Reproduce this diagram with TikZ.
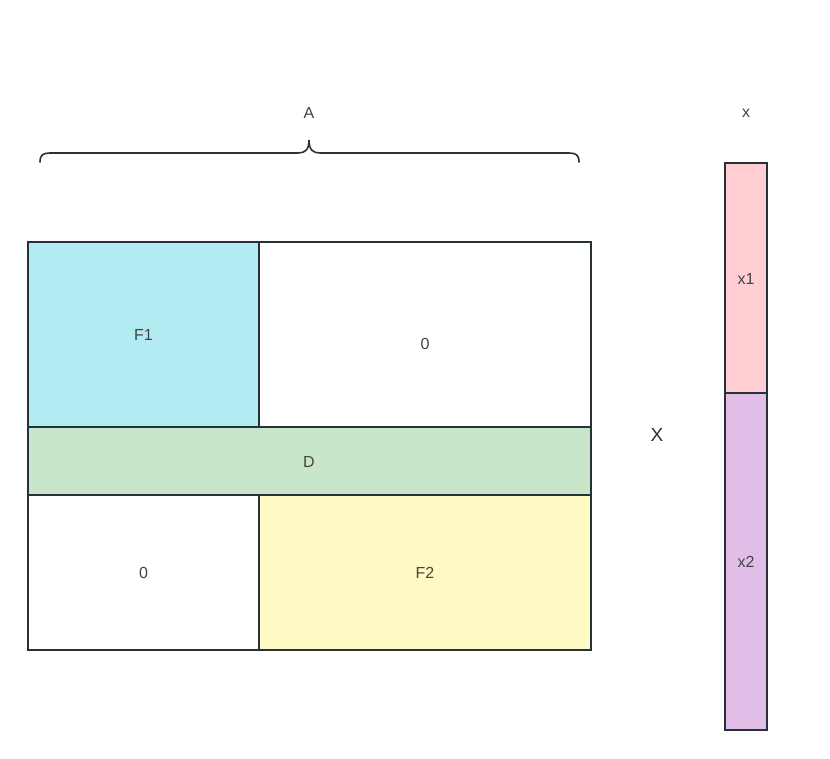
\documentclass[tikz,border=0pt]{standalone}
\usepackage{fontspec}
\setmainfont{Liberation Sans}
\begin{document}
\begin{tikzpicture}[x=1pt,y=-1pt,
  cell/.style={draw=linec, line width=1.6pt},
  lbl/.style={text=textc, font=\fontsize{16}{18}\selectfont, inner sep=0pt}]
\definecolor{linec}{HTML}{263238}
\definecolor{textc}{HTML}{444444}
\definecolor{cF}{HTML}{B2EBF2}
\definecolor{cD}{HTML}{C8E6C9}
\definecolor{cY}{HTML}{FFF9C4}
\definecolor{cP}{HTML}{FFCDD2}
\definecolor{cV}{HTML}{E1BEE7}
\useasboundingbox (0,0) rectangle (830,758);
% matrix A
\filldraw[cell, fill=cF] (28,242) rectangle (259,427);
\filldraw[cell, fill=white] (259,242) rectangle (591,427);
\filldraw[cell, fill=cD] (28,427) rectangle (591,495);
\filldraw[cell, fill=white] (28,495) rectangle (259,650);
\filldraw[cell, fill=cY] (259,495) rectangle (591,650);
\node[lbl] (f1) at (143.5,335) {F1};
\node[lbl] (z1) at (425,344) {0};
\node[lbl] (d) at (309,462) {D};
\node[lbl] (z2) at (143.5,573) {0};
\node[lbl] (f2) at (425,573) {F2};
% brace
\draw[linec, line width=1.6pt, line cap=round]
  (40,162) .. controls (40,155) and (43,153) .. (50,153)
  -- (298,153) .. controls (305,153) and (309,150) .. (309,140)
  .. controls (309,150) and (313,153) .. (320,153)
  -- (569,153) .. controls (576,153) and (579,155) .. (579,162);
\node[lbl] (a) at (309,113) {A};
% vector x
\filldraw[cell, fill=cP] (725,163) rectangle (767,393);
\filldraw[cell, fill=cV] (725,393) rectangle (767,730);
\node[lbl] (x1) at (746,279) {x1};
\node[lbl] (x2) at (746,562) {x2};
\node[lbl] (xl) at (746,113) {x};
\node[text=linec, font=\fontsize{19}{21}\selectfont, inner sep=0pt] (times) at (657,435) {X};
\end{tikzpicture}
\end{document}
